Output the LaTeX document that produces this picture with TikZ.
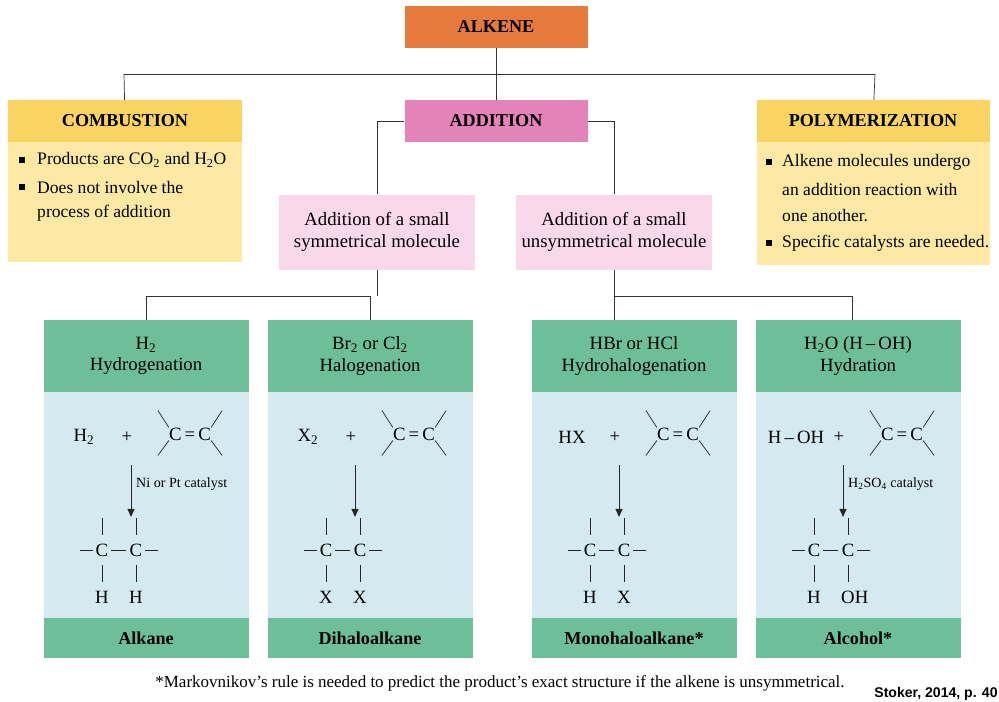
\documentclass[tikz,border=0pt]{standalone}
\usepackage{fontspec}
\setmainfont{Liberation Serif}
\setsansfont{Liberation Sans}
\usetikzlibrary{positioning,arrows.meta}
\definecolor{alkeneorange}{HTML}{E67A3C}
\definecolor{yellowhead}{HTML}{F9D462}
\definecolor{yellowbody}{HTML}{FDE9A4}
\definecolor{pinkhead}{HTML}{E383B8}
\definecolor{pinkbody}{HTML}{F8D8EA}
\definecolor{greenhead}{HTML}{6CBF98}
\definecolor{bluebody}{HTML}{D4EAF0}
\tikzset{
  box/.style={draw=none,inner sep=0pt},
  hd/.style={font=\fontsize{15.5}{17}\selectfont\bfseries},
  txt/.style={font=\fontsize{15}{17}\selectfont,anchor=west,inner sep=0pt},
  chem/.style={font=\fontsize{16}{18.5}\selectfont,inner sep=0pt},
  wire/.style={draw=black!80,line width=0.6pt},
  bond/.style={draw=black!85,line width=0.6pt}
}
\newcommand{\bul}[2]{\node[inner sep=0pt] at (#1,#2) {\rule{4.5pt}{4.5pt}};}
% one reaction panel: left x, name, header, reagent, catalyst, sub1, sub2, product
\newcommand{\panel}[8]{
  \fill[greenhead] (#1,320) rectangle +(205,72);
  \fill[bluebody] (#1,392) rectangle +(205,226);
  \fill[greenhead] (#1,618) rectangle +(205,40);
  \node[chem,align=center] (#2h) at (#1+102,356) {#3};
  \node[chem] (#2r) at (#1+40,437) {#4};
  \node[chem] (#2p) at (#1+83,437) {+};
  \node[chem] (#2a) at (#1+146,434) {C\,=\,C};
  \draw[bond] (#2a.north west) -- +(-11,-17);
  \draw[bond] (#2a.south west) -- +(-11,15);
  \draw[bond] (#2a.north east) -- +(11,-17);
  \draw[bond] (#2a.south east) -- +(11,15);
  \coordinate (#2s) at (#1+87,465);
  \coordinate (#2e) at (#1+87,517);
  \draw[bond,-{Triangle[length=7pt,width=6pt]}] (#2s) -- (#2e);
  \node[font=\fontsize{12}{14}\selectfont,anchor=west,inner sep=0pt] (#2c) at (#1+92,484) {#5};
  \node[chem] (#2x) at (#1+58,550) {C};
  \node[chem] (#2y) at (#1+92,550) {C};
  \draw[bond] (#2x.west) ++(-3,0) -- +(-13,0);
  \draw[bond] (#2x.east) ++(3,0) -- ([xshift=-3pt]#2y.west);
  \draw[bond] (#2y.east) ++(3,0) -- +(13,0);
  \draw[bond] (#1+58,518) -- (#1+58,535);
  \draw[bond] (#1+92,518) -- (#1+92,535);
  \draw[bond] (#1+58,565) -- (#1+58,582);
  \draw[bond] (#1+92,565) -- (#1+92,582);
  \node[chem] (#2u) at (#1+58,597) {#6};
  \node[chem,anchor=west] (#2v) at (#1+85,597) {#7};
  \node[hd] (#2f) at (#1+102,638) {#8};
}
\begin{document}
\begin{tikzpicture}[x=0.03cm,y=-0.03cm]
\useasboundingbox[fill=white] (0,0) rectangle (999,702);
% top level
\node[box,fill=alkeneorange,minimum width=183*0.03cm,minimum height=42*0.03cm,hd] (alkene) at (496,27) {ALKENE};
\node[box,fill=yellowhead,minimum width=234*0.03cm,minimum height=42*0.03cm,hd] (comb) at (125,121) {COMBUSTION};
\node[box,fill=pinkhead,minimum width=183*0.03cm,minimum height=42*0.03cm,hd] (add) at (496,121) {ADDITION};
\node[box,fill=yellowhead,minimum width=233*0.03cm,minimum height=42*0.03cm,hd] (poly) at (873,121) {POLYMERIZATION};
\fill[yellowbody] (8,142) rectangle (242,262);
\fill[yellowbody] (757,142) rectangle (990,265);
\coordinate (jl) at (124,74);
\coordinate (jr) at (875,74);
\draw[wire] (alkene) -- (add);
\draw[wire] (jl) -- (jr);
\draw[wire] (jl) -- (comb);
\draw[wire] (jr) -- (poly);
% combustion text
\bul{22}{160}\node[txt] (c1) at (37,160) {Products are CO\textsubscript{2} and H\textsubscript{2}O};
\bul{22}{187}\node[txt] (c2) at (37,187) {Does not involve the};
\node[txt] (c3) at (37,213) {process of addition};
% polymerization text
\bul{769}{162}\node[txt] (p1) at (782,162) {Alkene molecules undergo};
\node[txt] (p2) at (782,189) {an addition reaction with};
\node[txt] (p3) at (782,216) {one another.};
\bul{769}{243}\node[txt] (p4) at (782,243) {Specific catalysts are needed.};
% addition branches
\node[box,fill=pinkbody,minimum width=196*0.03cm,minimum height=75*0.03cm,chem,align=center] (sym) at (377,232) {Addition of a small\\symmetrical molecule};
\node[box,fill=pinkbody,minimum width=196*0.03cm,minimum height=75*0.03cm,chem,align=center] (uns) at (614,232) {Addition of a small\\unsymmetrical molecule};
\draw[wire] (add.west) -| (sym.north);
\draw[wire] (add.east) -| (uns.north);
% panels
\panel{44}{hy}{H\textsubscript{2}\\Hydrogenation}{H\textsubscript{2}}{Ni or Pt catalyst}{H}{H}{Alkane}
\panel{268}{ha}{Br\textsubscript{2} or Cl\textsubscript{2}\\Halogenation}{X\textsubscript{2}}{}{X}{X}{Dihaloalkane}
\panel{532}{hh}{HBr or HCl\\Hydrohalogenation}{HX}{}{H}{X}{Monohaloalkane*}
\panel{756}{hd}{H\textsubscript{2}O (H\,--\,OH)\\Hydration}{H\,--\,OH}{H\textsubscript{2}SO\textsubscript{4} catalyst}{H}{OH}{Alcohol*}
\coordinate (sl) at (146,296);
\coordinate (sr) at (370,296);
\coordinate (ul) at (614,296);
\coordinate (ur) at (852,296);
\draw[wire] (sym.south) -- (377,296);
\draw[wire] (sl) -- (sr);
\draw[wire] (sl) -- (146,320);
\draw[wire] (sr) -- (370,320);
\draw[wire] (uns.south) -- (ul);
\draw[wire] (ul) -- (ur);
\draw[wire] (ul) -- (614,320);
\draw[wire] (ur) -- (852,320);
% footnote
\node[chem,font=\fontsize{14.5}{16}\selectfont] (note) at (500,683) {*Markovnikov's rule is needed to predict the product's exact structure if the alkene is unsymmetrical.};
\node[font=\sffamily\bfseries\fontsize{12}{14}\selectfont,anchor=south east,inner sep=1pt] (src) at (999,702) {Stoker, 2014, p. 40};
\end{tikzpicture}
\end{document}
